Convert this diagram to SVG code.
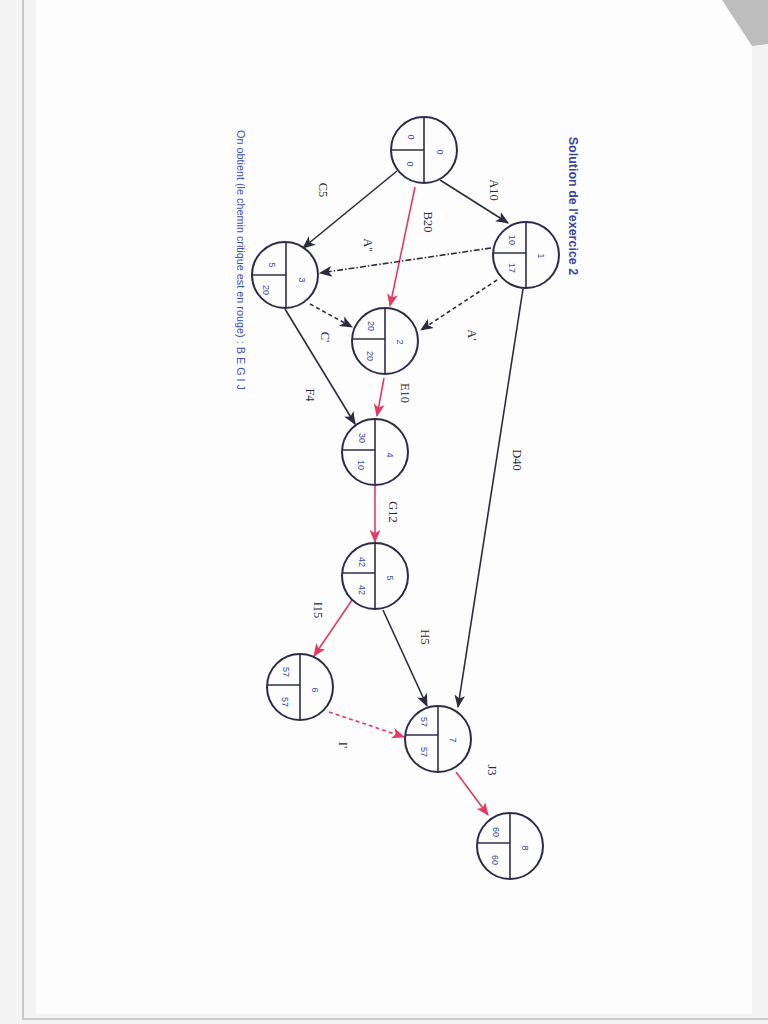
<svg xmlns="http://www.w3.org/2000/svg" width="768" height="1024" viewBox="0 0 768 1024">
<defs>
<style>
.node circle{fill:none;stroke:#2c2c48;stroke-width:2}
.node line{stroke:#2c2c48;stroke-width:1.6}
.num{font-family:"Liberation Sans",Arial,sans-serif;font-size:9px;fill:#3b4a9a;text-anchor:middle;dominant-baseline:central}
.lbl{font-family:"Liberation Serif","Times New Roman",serif;font-size:12.5px;fill:#2a2a38;text-anchor:middle;dominant-baseline:central}
.e{fill:none;stroke:#2c2c40;stroke-width:1.6}
.r{fill:none;stroke:#e23a62;stroke-width:1.6}
.dash{stroke-dasharray:4 3}
.dashdot{stroke-dasharray:6 2 1.5 2}
</style>
<marker id="ad" viewBox="0 0 12 10" refX="11" refY="5" markerWidth="13" markerHeight="11" markerUnits="userSpaceOnUse" orient="auto"><path d="M0,0 L12,5 L0,10 L3,5 Z" fill="#2c2c40"/></marker>
<marker id="ar" viewBox="0 0 12 10" refX="11" refY="5" markerWidth="13" markerHeight="11" markerUnits="userSpaceOnUse" orient="auto"><path d="M0,0 L12,5 L0,10 L3,5 Z" fill="#e23a62"/></marker>
</defs>
<rect x="0" y="0" width="768" height="1024" fill="#f4f4f4"/>
<rect x="36" y="0" width="716" height="1014" fill="#fdfdfd"/>
<line x1="23" y1="0" x2="23" y2="1020" stroke="#c8c8c8" stroke-width="2"/>
<line x1="23" y1="1019" x2="768" y2="1019" stroke="#cfcfcf" stroke-width="2"/>
<polygon points="722,0 768,0 768,44 752,46" fill="#bdbdbd"/>

<text x="573" y="206" transform="rotate(90 573 206)" font-family="Liberation Sans,Arial,sans-serif" font-size="12.5" font-weight="bold" fill="#3a44a0" text-anchor="middle" dominant-baseline="central">Solution de l'exercice 2</text>
<text x="241" y="260" transform="rotate(90 241 260)" font-family="Liberation Sans,Arial,sans-serif" font-size="10.5" fill="#3a50b8" text-anchor="middle" dominant-baseline="central" textLength="260" lengthAdjust="spacingAndGlyphs">On obtient (le chemin critique est en rouge) : B E G I J</text>

<g id="connectors">
<line class="e" x1="440" y1="180" x2="508" y2="223" marker-end="url(#ad)"/>
<line class="r" x1="415" y1="187" x2="390" y2="306" marker-end="url(#ar)"/>
<line class="e" x1="397" y1="171" x2="303" y2="248" marker-end="url(#ad)"/>
<line class="e dashdot" x1="491" y1="248" x2="320" y2="273" marker-end="url(#ad)"/>
<line class="e dash" x1="497" y1="280" x2="421" y2="330" marker-end="url(#ad)"/>
<line class="e dash" x1="310" y1="304" x2="352" y2="327" marker-end="url(#ad)"/>
<line class="r" x1="384" y1="378" x2="377" y2="416" marker-end="url(#ar)"/>
<line class="e" x1="285" y1="309" x2="355" y2="424" marker-end="url(#ad)"/>
<line class="e" x1="523" y1="289" x2="458" y2="707" marker-end="url(#ad)"/>
<line class="r" x1="375" y1="486" x2="375" y2="542" stroke-width="1" marker-end="url(#ar)"/>
<line class="e" x1="383" y1="610" x2="427" y2="706" marker-end="url(#ad)"/>
<line class="r" x1="352" y1="600" x2="314" y2="656" marker-end="url(#ar)"/>
<line class="r dash" x1="329" y1="712" x2="404" y2="737" marker-end="url(#ar)"/>
<line class="r" x1="456" y1="772" x2="488" y2="815" marker-end="url(#ar)"/>
</g>

<g id="labels">
<text class="lbl" x="494" y="190" transform="rotate(90 494 190)">A10</text>
<text class="lbl" x="428" y="222" transform="rotate(90 428 222)">B20</text>
<text class="lbl" x="323" y="190" transform="rotate(90 323 190)">C5</text>
<text class="lbl" x="368" y="245" transform="rotate(90 368 245)">A''</text>
<text class="lbl" x="472" y="335" transform="rotate(90 472 335)">A'</text>
<text class="lbl" x="325" y="337" transform="rotate(90 325 337)">C'</text>
<text class="lbl" x="405" y="393" transform="rotate(90 405 393)">E10</text>
<text class="lbl" x="310" y="395" transform="rotate(90 310 395)">F4</text>
<text class="lbl" x="517" y="460" transform="rotate(90 517 460)">D40</text>
<text class="lbl" x="393" y="512" transform="rotate(90 393 512)">G12</text>
<text class="lbl" x="425" y="637" transform="rotate(90 425 637)">H5</text>
<text class="lbl" x="318" y="610" transform="rotate(90 318 610)">I15</text>
<text class="lbl" x="343" y="745" transform="rotate(90 343 745)">I'</text>
<text class="lbl" x="492" y="770" transform="rotate(90 492 770)">J3</text>
</g>

<g id="node0" class="node">
<circle cx="424" cy="150" r="33"/><line x1="424" y1="117" x2="424" y2="183"/><line x1="391" y1="150" x2="424" y2="150"/>
<text class="num" x="440" y="152" transform="rotate(90 440 152)">0</text>
<text class="num" x="411" y="137" transform="rotate(90 411 137)">0</text>
<text class="num" x="410" y="164" transform="rotate(90 410 164)">0</text>
</g>
<g id="node1" class="node">
<circle cx="526" cy="255" r="33"/><line x1="526" y1="222" x2="526" y2="288"/><line x1="493" y1="253" x2="526" y2="253"/>
<text class="num" x="541" y="256" transform="rotate(90 541 256)">1</text>
<text class="num" x="512" y="240" transform="rotate(90 512 240)">10</text>
<text class="num" x="512" y="268" transform="rotate(90 512 268)">17</text>
</g>
<g id="node3" class="node">
<circle cx="285" cy="275" r="33"/><line x1="286" y1="242" x2="286" y2="308"/><line x1="252" y1="275" x2="286" y2="275"/>
<text class="num" x="302" y="280" transform="rotate(90 302 280)">3</text>
<text class="num" x="272" y="265" transform="rotate(90 272 265)">5</text>
<text class="num" x="266" y="290" transform="rotate(90 266 290)">20</text>
</g>
<g id="node2" class="node">
<circle cx="385" cy="341" r="33"/><line x1="385" y1="308" x2="385" y2="374"/><line x1="352" y1="339" x2="385" y2="339"/>
<text class="num" x="400" y="342" transform="rotate(90 400 342)">2</text>
<text class="num" x="371" y="326" transform="rotate(90 371 326)">20</text>
<text class="num" x="370" y="356" transform="rotate(90 370 356)">20</text>
</g>
<g id="node4" class="node">
<circle cx="375" cy="452" r="33"/><line x1="375" y1="419" x2="375" y2="485"/><line x1="342" y1="450" x2="375" y2="450"/>
<text class="num" x="390" y="455" transform="rotate(90 390 455)">4</text>
<text class="num" x="362" y="438" transform="rotate(90 362 438)">30</text>
<text class="num" x="361" y="465" transform="rotate(90 361 465)">10</text>
</g>
<g id="node5" class="node">
<circle cx="375" cy="576" r="33"/><line x1="375" y1="543" x2="375" y2="609"/><line x1="342" y1="573" x2="375" y2="573"/>
<text class="num" x="390" y="578" transform="rotate(90 390 578)">5</text>
<text class="num" x="362" y="562" transform="rotate(90 362 562)">42</text>
<text class="num" x="362" y="590" transform="rotate(90 362 590)">42</text>
</g>
<g id="node6" class="node">
<circle cx="300" cy="687" r="33"/><line x1="300" y1="654" x2="300" y2="720"/><line x1="267" y1="685" x2="300" y2="685"/>
<text class="num" x="315" y="690" transform="rotate(90 315 690)">6</text>
<text class="num" x="286" y="672" transform="rotate(90 286 672)">57</text>
<text class="num" x="285" y="702" transform="rotate(90 285 702)">57</text>
</g>
<g id="node7" class="node">
<circle cx="438" cy="739" r="33"/><line x1="438" y1="706" x2="438" y2="772"/><line x1="405" y1="735" x2="438" y2="735"/>
<text class="num" x="453" y="740" transform="rotate(90 453 740)">7</text>
<text class="num" x="424" y="722" transform="rotate(90 424 722)">57</text>
<text class="num" x="424" y="752" transform="rotate(90 424 752)">57</text>
</g>
<g id="node8" class="node">
<circle cx="510" cy="846" r="33"/><line x1="510" y1="813" x2="510" y2="879"/><line x1="477" y1="843" x2="510" y2="843"/>
<text class="num" x="525" y="848" transform="rotate(90 525 848)">8</text>
<text class="num" x="496" y="832" transform="rotate(90 496 832)">60</text>
<text class="num" x="495" y="860" transform="rotate(90 495 860)">60</text>
</g>
</svg>
